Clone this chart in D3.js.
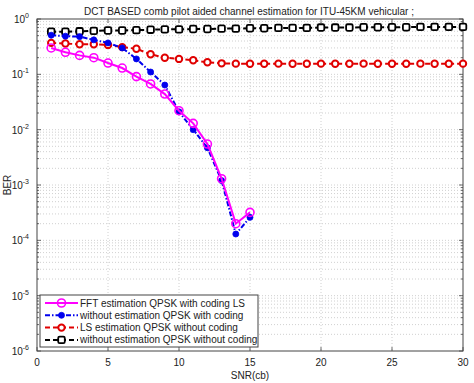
<!DOCTYPE html>
<html>
<head>
<meta charset="utf-8">
<script src="https://cdn.jsdelivr.net/npm/d3@7"></script>
<style>
  body { margin: 0; background: #fff; }
  text { font-family: "Liberation Sans", Arial, sans-serif; fill: #222; }
  .grid line { stroke: #c4c4c4; stroke-dasharray: 1,2; stroke-width: 0.8; }
</style>
</head>
<body>
<script>
var width = 474,
  height = 383;

var snrShort = [1, 2, 3, 4, 5, 6, 7, 8, 9, 10, 11, 12, 13, 14, 15];
var snrLong = [1, 2, 3, 4, 5, 6, 7, 8, 9, 10, 11, 12, 13, 14, 15,
  16, 17, 18, 19, 20, 21, 22, 23, 24, 25, 26, 27, 28, 29, 30];

var fftCoded = [0.30, 0.25, 0.22, 0.20, 0.16, 0.13, 0.091, 0.067, 0.044, 0.022,
  0.013, 0.0055, 0.0013, 0.0002, 0.00032];
var noEstCoded = [0.51, 0.49, 0.48, 0.42, 0.37, 0.30, 0.19, 0.11, 0.064, 0.021,
  0.010, 0.0047, 0.0012, 0.00013, 0.00026];
var lsUncoded = [0.37, 0.36, 0.35, 0.35, 0.34, 0.31, 0.29, 0.23, 0.20, 0.19,
  0.18, 0.165, 0.158, 0.156, 0.155, 0.155, 0.156, 0.155, 0.155, 0.156,
  0.155, 0.155, 0.156, 0.155, 0.155, 0.155, 0.156, 0.155, 0.155, 0.156];
var noEstUncoded = [0.59, 0.59, 0.60, 0.61, 0.62, 0.62, 0.63, 0.64, 0.65, 0.65,
  0.66, 0.66, 0.67, 0.67, 0.68, 0.68, 0.69, 0.69, 0.69, 0.70,
  0.70, 0.70, 0.71, 0.71, 0.71, 0.71, 0.72, 0.72, 0.72, 0.72];

var xTicks = [0, 5, 10, 15, 20, 25, 30];
var yExponents = [0, -1, -2, -3, -4, -5, -6];

var legendLabels = [
  "FFT estimation QPSK with coding LS",
  "without estimation QPSK with coding",
  "LS estimation QPSK without coding",
  "without estimation QPSK without coding"
];

var series = [
  { x: snrShort, y: fftCoded, color: "#ff00ff", dash: null, marker: "circle" },
  { x: snrShort, y: noEstCoded, color: "#0000ee", dash: "5,2,1.5,2", marker: "dot" },
  { x: snrLong, y: lsUncoded, color: "#e00000", dash: "5,3", marker: "ring" },
  { x: snrLong, y: noEstUncoded, color: "#000000", dash: "5,3", marker: "square" }
];

var x = d3.scaleLinear().domain([0, 30]).range([37, 463]);
var y = d3.scaleLog().domain([1e-6, 1]).range([351, 19]);

var svg = d3.select("body").append("svg")
  .attr("width", width)
  .attr("height", height);

// grid
var grid = svg.append("g").attr("class", "grid");
grid.selectAll("line.gx")
  .data(xTicks.slice(1, -1))
  .enter().append("line")
    .attr("x1", function(d) { return x(d); })
    .attr("x2", function(d) { return x(d); })
    .attr("y1", y.range()[1])
    .attr("y2", y.range()[0]);

var minorVals = [];
for (var e = -6; e < 0; e++) {
  for (var m = 1; m < 10; m++) {
    minorVals.push(m * Math.pow(10, e));
  }
}
grid.selectAll("line.gy")
  .data(minorVals.filter(function(v) { return v > 1e-6; }))
  .enter().append("line")
    .attr("x1", x.range()[0])
    .attr("x2", x.range()[1])
    .attr("y1", function(d) { return y(d); })
    .attr("y2", function(d) { return y(d); });

// box
svg.append("rect")
  .attr("x", x.range()[0])
  .attr("y", y.range()[1])
  .attr("width", x.range()[1] - x.range()[0])
  .attr("height", y.range()[0] - y.range()[1])
  .attr("fill", "none")
  .attr("stroke", "#444")
  .attr("stroke-width", 1);

// inner ticks
var ticks = svg.append("g").attr("stroke", "#444").attr("stroke-width", 0.8);
xTicks.forEach(function(t) {
  ticks.append("line").attr("x1", x(t)).attr("x2", x(t)).attr("y1", y.range()[0]).attr("y2", y.range()[0] - 4);
  ticks.append("line").attr("x1", x(t)).attr("x2", x(t)).attr("y1", y.range()[1]).attr("y2", y.range()[1] + 4);
});
minorVals.concat([1]).forEach(function(v) {
  var major = Math.abs(Math.log10(v) - Math.round(Math.log10(v))) < 1e-9;
  var len = major ? 4 : 2;
  ticks.append("line").attr("x1", x.range()[0]).attr("x2", x.range()[0] + len).attr("y1", y(v)).attr("y2", y(v));
  ticks.append("line").attr("x1", x.range()[1]).attr("x2", x.range()[1] - len).attr("y1", y(v)).attr("y2", y(v));
});

// tick labels
svg.selectAll("text.xtick")
  .data(xTicks)
  .enter().append("text")
    .attr("class", "xtick")
    .attr("x", function(d) { return x(d); })
    .attr("y", 366)
    .attr("text-anchor", "middle")
    .attr("font-size", "10px")
    .text(function(d) { return d; });

var yl = svg.selectAll("text.ytick")
  .data(yExponents)
  .enter().append("text")
    .attr("class", "ytick")
    .attr("x", 29)
    .attr("y", function(d) { return y(Math.pow(10, d)) + 4; })
    .attr("text-anchor", "end")
    .attr("font-size", "10px");
yl.append("tspan").text("10");
yl.append("tspan")
  .attr("dy", -5)
  .attr("font-size", "7px")
  .text(function(d) { return d; });

// axis titles
svg.append("text")
  .attr("x", (x.range()[0] + x.range()[1]) / 2)
  .attr("y", 379)
  .attr("text-anchor", "middle")
  .attr("font-size", "10px")
  .text("SNR(cb)");

svg.append("text")
  .attr("transform", "translate(11," + ((y.range()[0] + y.range()[1]) / 2) + ") rotate(-90)")
  .attr("text-anchor", "middle")
  .attr("font-size", "10px")
  .text("BER");

svg.append("text")
  .attr("x", 249)
  .attr("y", 15)
  .attr("text-anchor", "middle")
  .attr("font-size", "10px")
  .text("DCT BASED comb pilot aided channel estimation for ITU-45KM vehicular ;");

// markers
function drawMarker(g, s, px, py) {
  if (s.marker === "circle") {
    g.append("circle").attr("cx", px).attr("cy", py).attr("r", 4)
      .attr("fill", "none").attr("stroke", s.color).attr("stroke-width", 1.6);
  } else if (s.marker === "dot") {
    g.append("circle").attr("cx", px).attr("cy", py).attr("r", 3)
      .attr("fill", s.color).attr("stroke", s.color).attr("stroke-width", 0.8);
  } else if (s.marker === "ring") {
    g.append("circle").attr("cx", px).attr("cy", py).attr("r", 3.2)
      .attr("fill", "#fff").attr("stroke", s.color).attr("stroke-width", 2);
  } else {
    g.append("rect").attr("x", px - 3.3).attr("y", py - 3.3).attr("width", 6.6).attr("height", 6.6)
      .attr("rx", 1.5).attr("fill", "#fff").attr("stroke", s.color).attr("stroke-width", 1.8);
  }
}

var line = d3.line()
  .x(function(d) { return x(d[0]); })
  .y(function(d) { return y(d[1]); });

var plot = svg.append("g");
series.slice().reverse().forEach(function(s) {
  var pts = d3.zip(s.x, s.y);
  plot.append("path")
    .datum(pts)
    .attr("d", line)
    .attr("fill", "none")
    .attr("stroke", s.color)
    .attr("stroke-width", 2)
    .attr("stroke-dasharray", s.dash);
  var mg = plot.append("g");
  pts.forEach(function(p) { drawMarker(mg, s, x(p[0]), y(p[1])); });
});

// legend
var legend = svg.append("g");
legend.append("rect")
  .attr("x", 40).attr("y", 295)
  .attr("width", 218).attr("height", 52)
  .attr("fill", "#fff")
  .attr("stroke", "#444")
  .attr("stroke-width", 1);

series.forEach(function(s, i) {
  var ry = 303 + i * 12.3;
  legend.append("line")
    .attr("x1", 45).attr("x2", 78)
    .attr("y1", ry).attr("y2", ry)
    .attr("stroke", s.color)
    .attr("stroke-width", 2)
    .attr("stroke-dasharray", s.dash);
  drawMarker(legend, s, 61.5, ry);
  legend.append("text")
    .attr("x", 80)
    .attr("y", ry + 3.5)
    .attr("font-size", "10px")
    .text(legendLabels[i]);
});
</script>
</body>
</html>
